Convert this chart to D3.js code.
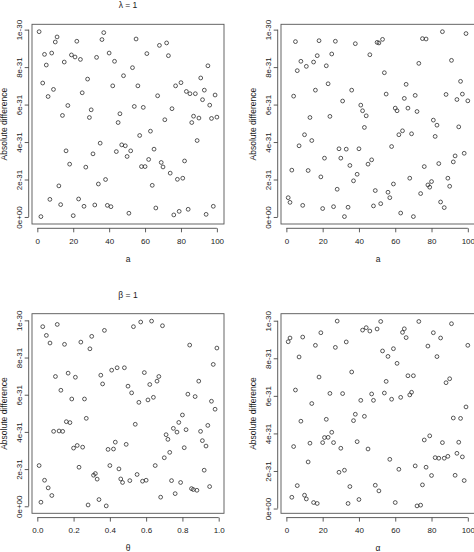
<!DOCTYPE html>
<html>
<head>
<meta charset="utf-8">
<script src="https://cdn.jsdelivr.net/npm/d3@7"></script>
<style>
  body { margin: 0; background: #fff; }
  svg { display: block; background: #fff; }
  text { font-family: "Liberation Sans", Arial, sans-serif; fill: #1a1a1a; }
</style>
</head>
<body>
<svg id="chart" width="474" height="552"></svg>
<script>
// Data (absolute differences, in units of 1e-31)
const diffLambda = [
  9.89, 0.02, 7.15, 8.68, 8.11, 6.43, 0.94, 8.75, 6.81, 9.34,
  9.61, 1.66, 0.66, 5.42, 8.27, 3.53, 5.95, 2.82, 8.65, 0.07,
  8.54, 9.38, 0.96, 8.41, 6.63, 0.57, 2.66, 7.36, 5.31, 5.72,
  3.37, 0.64, 8.52, 1.76, 3.94, 9.47, 9.84, 2.00, 0.62, 8.75,
  0.55, 7.00, 8.31, 3.49, 5.04, 5.51, 3.85, 7.54, 3.80, 3.23,
  0.20, 3.53, 7.97, 5.90, 9.50, 7.00, 4.35, 2.69, 5.85, 2.69,
  8.72, 3.07, 4.58, 1.69, 3.62, 0.48, 6.47, 9.16, 2.91, 2.67,
  5.19, 9.29, 8.61, 2.34, 5.78, 0.11, 7.00, 2.01, 0.30, 7.17,
  2.07, 2.99, 6.70, 0.41, 6.58, 5.04, 5.38, 6.58, 4.08, 5.28,
  7.42, 6.26, 6.77, 0.14, 8.07, 5.97, 5.26, 0.57, 6.51, 5.33
];

const diffA = [
  1.03, 0.78, 2.50, 6.45, 9.36, 7.81, 3.80, 8.31, 0.62, 4.39,
  8.04, 2.48, 5.31, 4.08, 8.27, 6.77, 8.61, 9.41, 2.14, 0.45,
  3.14, 8.07, 7.11, 5.37, 8.70, 0.55, 9.38, 1.48, 3.64, 3.14,
  6.19, 0.02, 3.62, 0.52, 2.75, 6.77, 1.93, 9.25, 2.28, 3.64,
  5.97, 5.67, 4.78, 5.40, 2.82, 8.66, 3.05, 0.59, 1.41, 9.32,
  9.29, 0.71, 9.48, 7.70, 6.56, 1.32, 1.03, 3.76, 1.76, 5.81,
  5.67, 4.39, 0.21, 4.60, 6.33, 7.08, 5.81, 2.07, 4.44, 0.02,
  6.49, 5.63, 8.20, 1.25, 9.52, 2.69, 9.50, 1.71, 1.59, 1.89,
  5.17, 4.30, 4.90, 2.85, 0.80, 9.89, 0.50, 6.54, 2.07, 1.64,
  8.36, 2.94, 3.26, 6.27, 4.81, 7.24, 6.56, 3.40, 9.79, 6.20
];

const thetaValues = [
  0.01, 0.02, 0.03, 0.04, 0.05, 0.06, 0.07, 0.08, 0.09, 0.10,
  0.11, 0.12, 0.13, 0.14, 0.15, 0.16, 0.17, 0.18, 0.19, 0.20,
  0.21, 0.22, 0.23, 0.24, 0.25, 0.26, 0.27, 0.28, 0.29, 0.30,
  0.31, 0.32, 0.33, 0.34, 0.35, 0.36, 0.37, 0.38, 0.39, 0.40,
  0.41, 0.42, 0.43, 0.44, 0.45, 0.46, 0.47, 0.48, 0.49, 0.50,
  0.51, 0.52, 0.53, 0.54, 0.55, 0.56, 0.57, 0.58, 0.59, 0.60,
  0.61, 0.62, 0.63, 0.64, 0.65, 0.66, 0.67, 0.68, 0.69, 0.70,
  0.71, 0.72, 0.73, 0.74, 0.75, 0.76, 0.77, 0.78, 0.79, 0.80,
  0.81, 0.82, 0.83, 0.84, 0.85, 0.86, 0.87, 0.88, 0.89, 0.90,
  0.91, 0.92, 0.93, 0.94, 0.95, 0.96, 0.97, 0.98, 0.99
];

const diffBeta = [
  2.19, 0.22, 9.66, 1.40, 9.19, 0.99, 8.78, 0.58, 4.03, 6.98,
  9.78, 4.05, 6.24, 4.03, 8.71, 4.55, 7.16, 4.50, 5.77, 3.13,
  6.94, 3.27, 2.10, 8.83, 3.18, 5.77, 4.73, 0.07, 8.47, 9.14,
  1.67, 1.76, 1.46, 0.36, 7.05, 6.58, 9.46, 0.02, 3.06, 2.19,
  7.32, 3.08, 3.45, 7.45, 2.01, 1.47, 1.28, 7.45, 3.33, 6.46,
  1.38, 6.10, 9.66, 4.41, 1.71, 5.59, 9.91, 1.35, 7.19, 1.40,
  5.72, 6.55, 9.96, 5.86, 2.19, 6.73, 6.98, 0.49, 9.71, 2.61,
  3.85, 3.60, 2.90, 1.38, 4.19, 0.68, 3.99, 4.51, 1.28, 4.91,
  3.15, 4.12, 6.03, 8.67, 0.95, 0.90, 5.90, 0.86, 6.73, 4.03,
  3.53, 1.94, 3.24, 4.35, 1.06, 5.65, 7.63, 5.22, 8.51
];

const diffAlpha = [
  8.88, 9.08, 0.60, 3.30, 6.31, 1.22, 8.07, 4.65, 9.13, 0.71,
  0.51, 2.48, 3.48, 5.59, 0.32, 8.69, 0.27, 7.00, 9.36, 3.51,
  3.78, 4.75, 3.79, 6.13, 4.06, 3.51, 8.58, 9.98, 1.93, 3.21,
  6.12, 2.04, 8.87, 0.27, 1.17, 7.27, 4.68, 5.02, 3.56, 0.48,
  5.76, 9.50, 4.91, 9.63, 3.17, 9.45, 6.10, 5.76, 1.24, 9.56,
  0.94, 9.96, 8.39, 6.15, 6.77, 8.10, 2.62, 5.82, 8.51, 0.32,
  7.73, 2.09, 5.92, 9.38, 9.57, 9.10, 7.07, 6.05, 6.19, 7.07,
  2.27, 0.14, 9.96, 0.18, 1.26, 3.65, 2.20, 8.65, 3.87, 1.76,
  9.36, 2.71, 8.09, 2.68, 9.08, 3.51, 2.68, 6.70, 2.78, 6.91,
  9.84, 4.82, 1.77, 2.94, 3.53, 4.80, 2.75, 1.49, 5.41, 8.69
];

// Tick labels
const yTicks = [0, 2, 4, 6, 8, 10];
const yTickLabels = ["0e+00", "2e-31", "4e-31", "6e-31", "8e-31", "1e-30"];
const indexTicks = [0, 20, 40, 60, 80, 100];
const indexTickLabels = ["0", "20", "40", "60", "80", "100"];
const thetaTicks = [0, 0.2, 0.4, 0.6, 0.8, 1.0];
const thetaTickLabels = ["0.0", "0.2", "0.4", "0.6", "0.8", "1.0"];

const svg = d3.select("#chart");

// R-style axis range: data extent padded by 4%
function padded(ext) {
  const p = (ext[1] - ext[0]) * 0.04;
  return [ext[0] - p, ext[1] + p];
}

function createPanel(cfg) {
  const w = cfg.right - cfg.left;
  const h = cfg.bottom - cfg.top;
  const pts = cfg.y.map((v, i) => ({ x: cfg.x ? cfg.x[i] : i + 1, y: v }));

  const x = d3.scaleLinear().domain(padded(d3.extent(pts, d => d.x))).range([0, w]);
  const y = d3.scaleLinear().domain(padded(d3.extent(pts, d => d.y))).range([h, 0]);

  const g = svg.append("g").attr("transform", `translate(${cfg.left},${cfg.top})`);

  // x axis
  const xg = g.append("g")
    .attr("transform", `translate(0,${h + 4.3})`)
    .call(d3.axisBottom(x).tickValues(cfg.xTicks)
      .tickFormat((d, i) => cfg.xTickLabels[i])
      .tickSize(4).tickSizeOuter(0).tickPadding(5.6));
  xg.select(".domain").remove();
  xg.append("line")
    .attr("x1", x(cfg.xTicks[0])).attr("x2", x(cfg.xTicks[cfg.xTicks.length - 1]))
    .attr("stroke", "#333").attr("stroke-width", 0.8);
  xg.attr("font-size", 8).attr("font-family", null);
  xg.selectAll(".tick line").attr("stroke", "#333").attr("stroke-width", 0.8);
  xg.selectAll(".tick text").attr("fill", "#1a1a1a");

  // y axis, labels rotated as in R
  const yg = g.append("g")
    .attr("transform", "translate(-3.3,0)")
    .call(d3.axisLeft(y).tickValues(yTicks)
      .tickFormat((d, i) => yTickLabels[i])
      .tickSize(4).tickSizeOuter(0));
  yg.select(".domain").remove();
  yg.append("line")
    .attr("y1", y(yTicks[0])).attr("y2", y(yTicks[yTicks.length - 1]))
    .attr("stroke", "#333").attr("stroke-width", 0.8);
  yg.attr("font-size", 8).attr("font-family", null);
  yg.selectAll(".tick line").attr("stroke", "#333").attr("stroke-width", 0.8);
  yg.selectAll(".tick text")
    .attr("x", 0).attr("dy", null)
    .attr("text-anchor", "middle")
    .attr("transform", "translate(-6.4,0) rotate(-90)")
    .attr("fill", "#1a1a1a");

  // plot box
  g.append("rect")
    .attr("width", w).attr("height", h)
    .attr("fill", "none").attr("stroke", "#555").attr("stroke-width", 0.9);

  // points (open circles)
  g.selectAll("circle.pt")
    .data(pts)
    .enter().append("circle")
    .attr("class", "pt")
    .attr("cx", d => x(d.x))
    .attr("cy", d => y(d.y))
    .attr("r", 1.9)
    .attr("fill", "none")
    .attr("stroke", "#222")
    .attr("stroke-width", 0.75);

  // axis titles
  g.append("text")
    .attr("x", w / 2).attr("y", h + 38)
    .attr("text-anchor", "middle").attr("font-size", 8.5)
    .text(cfg.xTitle);
  g.append("text")
    .attr("transform", `translate(-25,${h / 2}) rotate(-90)`)
    .attr("text-anchor", "middle").attr("font-size", 8.5)
    .text("Absolute difference");

  if (cfg.title) {
    g.append("text")
      .attr("x", w / 2).attr("y", -16)
      .attr("text-anchor", "middle").attr("font-size", 8.5)
      .text(cfg.title);
  }
}

createPanel({ left: 32, right: 224, top: 24.3, bottom: 224, y: diffLambda,
  xTicks: indexTicks, xTickLabels: indexTickLabels, xTitle: "a", title: "λ = 1" });
createPanel({ left: 281, right: 475, top: 24.3, bottom: 224, y: diffA,
  xTicks: indexTicks, xTickLabels: indexTickLabels, xTitle: "a" });
createPanel({ left: 32, right: 224, top: 313.7, bottom: 513.3, x: thetaValues, y: diffBeta,
  xTicks: thetaTicks, xTickLabels: thetaTickLabels, xTitle: "θ", title: "β = 1" });
createPanel({ left: 281, right: 475, top: 313.7, bottom: 513.3, y: diffAlpha,
  xTicks: indexTicks, xTickLabels: indexTickLabels, xTitle: "α" });
</script>
</body>
</html>
